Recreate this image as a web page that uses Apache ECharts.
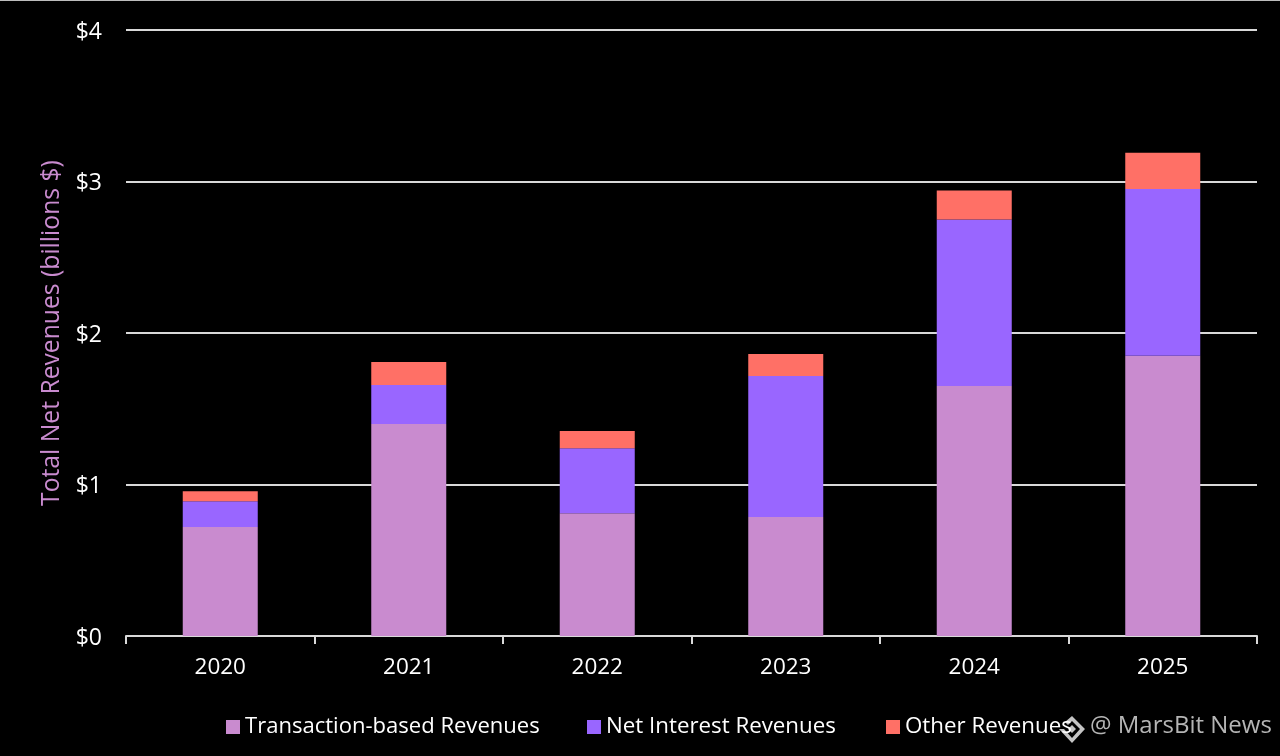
<!DOCTYPE html>
<html><head><meta charset="utf-8">
<style>html,body{margin:0;padding:0;background:#000}#c{width:1280px;height:756px}</style>
<script src="https://cdn.jsdelivr.net/npm/echarts@6/dist/echarts.min.js"></script>
</head><body><div id="c"></div>
<script>
const categories = ['2020','2021','2022','2023','2024','2025'];
const transactionRevenues = [0.72,1.40,0.81,0.785,1.65,1.85];
const netInterestRevenues = [0.17,0.257,0.43,0.931,1.10,1.10];
const otherRevenues = [0.065,0.152,0.113,0.145,0.19,0.24];
const seriesNames = ['Transaction-based Revenues','Net Interest Revenues','Other Revenues'];
const font = '"Open Sans"';
const chart = echarts.init(document.getElementById('c'), null, {renderer:'canvas'});
const mk = (name, data, color) => ({name, type:'bar', stack:'t', data, barWidth:75, itemStyle:{color}, emphasis:{disabled:true}});
const lg = (name, left, size) => ({
  left, top:711, itemWidth:14, itemHeight:14, icon:'rect',
  textStyle:{color:'#fff',fontSize:size,fontFamily:font},
  data:[name]
});
chart.setOption({
  animation:false,
  backgroundColor:'#000',
  textStyle:{fontFamily:font},
  grid:{left:126,right:23,top:30,bottom:120,containLabel:false},
  legend:[lg(seriesNames[0],221,22.05),lg(seriesNames[1],582,22.3),lg(seriesNames[2],881,22.3)],
  xAxis:{type:'category',data:categories,
    axisLine:{lineStyle:{color:'#d9d9d9',width:2}},
    axisTick:{show:true,alignWithLabel:false,length:8,lineStyle:{color:'#d9d9d9',width:2}},
    axisLabel:{color:'#fff',fontSize:22.5,margin:20,fontFamily:font}},
  yAxis:{type:'value',min:0,max:4,interval:1,
    name:'Total Net Revenues (billions $)',nameLocation:'middle',nameGap:61,
    nameTextStyle:{color:'#c98bcf',fontSize:24.7,fontFamily:font},
    axisLine:{show:false},axisTick:{show:false},
    axisLabel:{color:'#fff',fontSize:23,margin:24,fontFamily:font,verticalAlign:'top',lineHeight:4,formatter:v=>'$'+v},
    splitLine:{lineStyle:{color:'#d9d9d9',width:2}}},
  series:[
    mk(seriesNames[0],transactionRevenues,'#c98bcf'),
    mk(seriesNames[1],netInterestRevenues,'#9966ff'),
    mk(seriesNames[2],otherRevenues,'#ff7066')
  ],
  graphic:[
    {type:'rect',left:0,top:0,shape:{width:1280,height:1},style:{fill:'#bdbdbd'}},
    {type:'text',left:1090,top:714,style:{text:'@ MarsBit News',fill:'#b5b5b5',fontSize:24,fontFamily:font}},
    {type:'polygon',shape:{points:[[1072,716],[1085,729],[1072,743],[1059,729],[1064,729],[1072,738],[1080,729],[1072,721],[1068,725],[1065,722]]},style:{fill:'#c4c4c4'}},
    {type:'polygon',shape:{points:[[1072,725],[1076,729],[1072,733],[1068,729]]},style:{fill:'#c4c4c4'}}
  ]
});
</script></body></html>
